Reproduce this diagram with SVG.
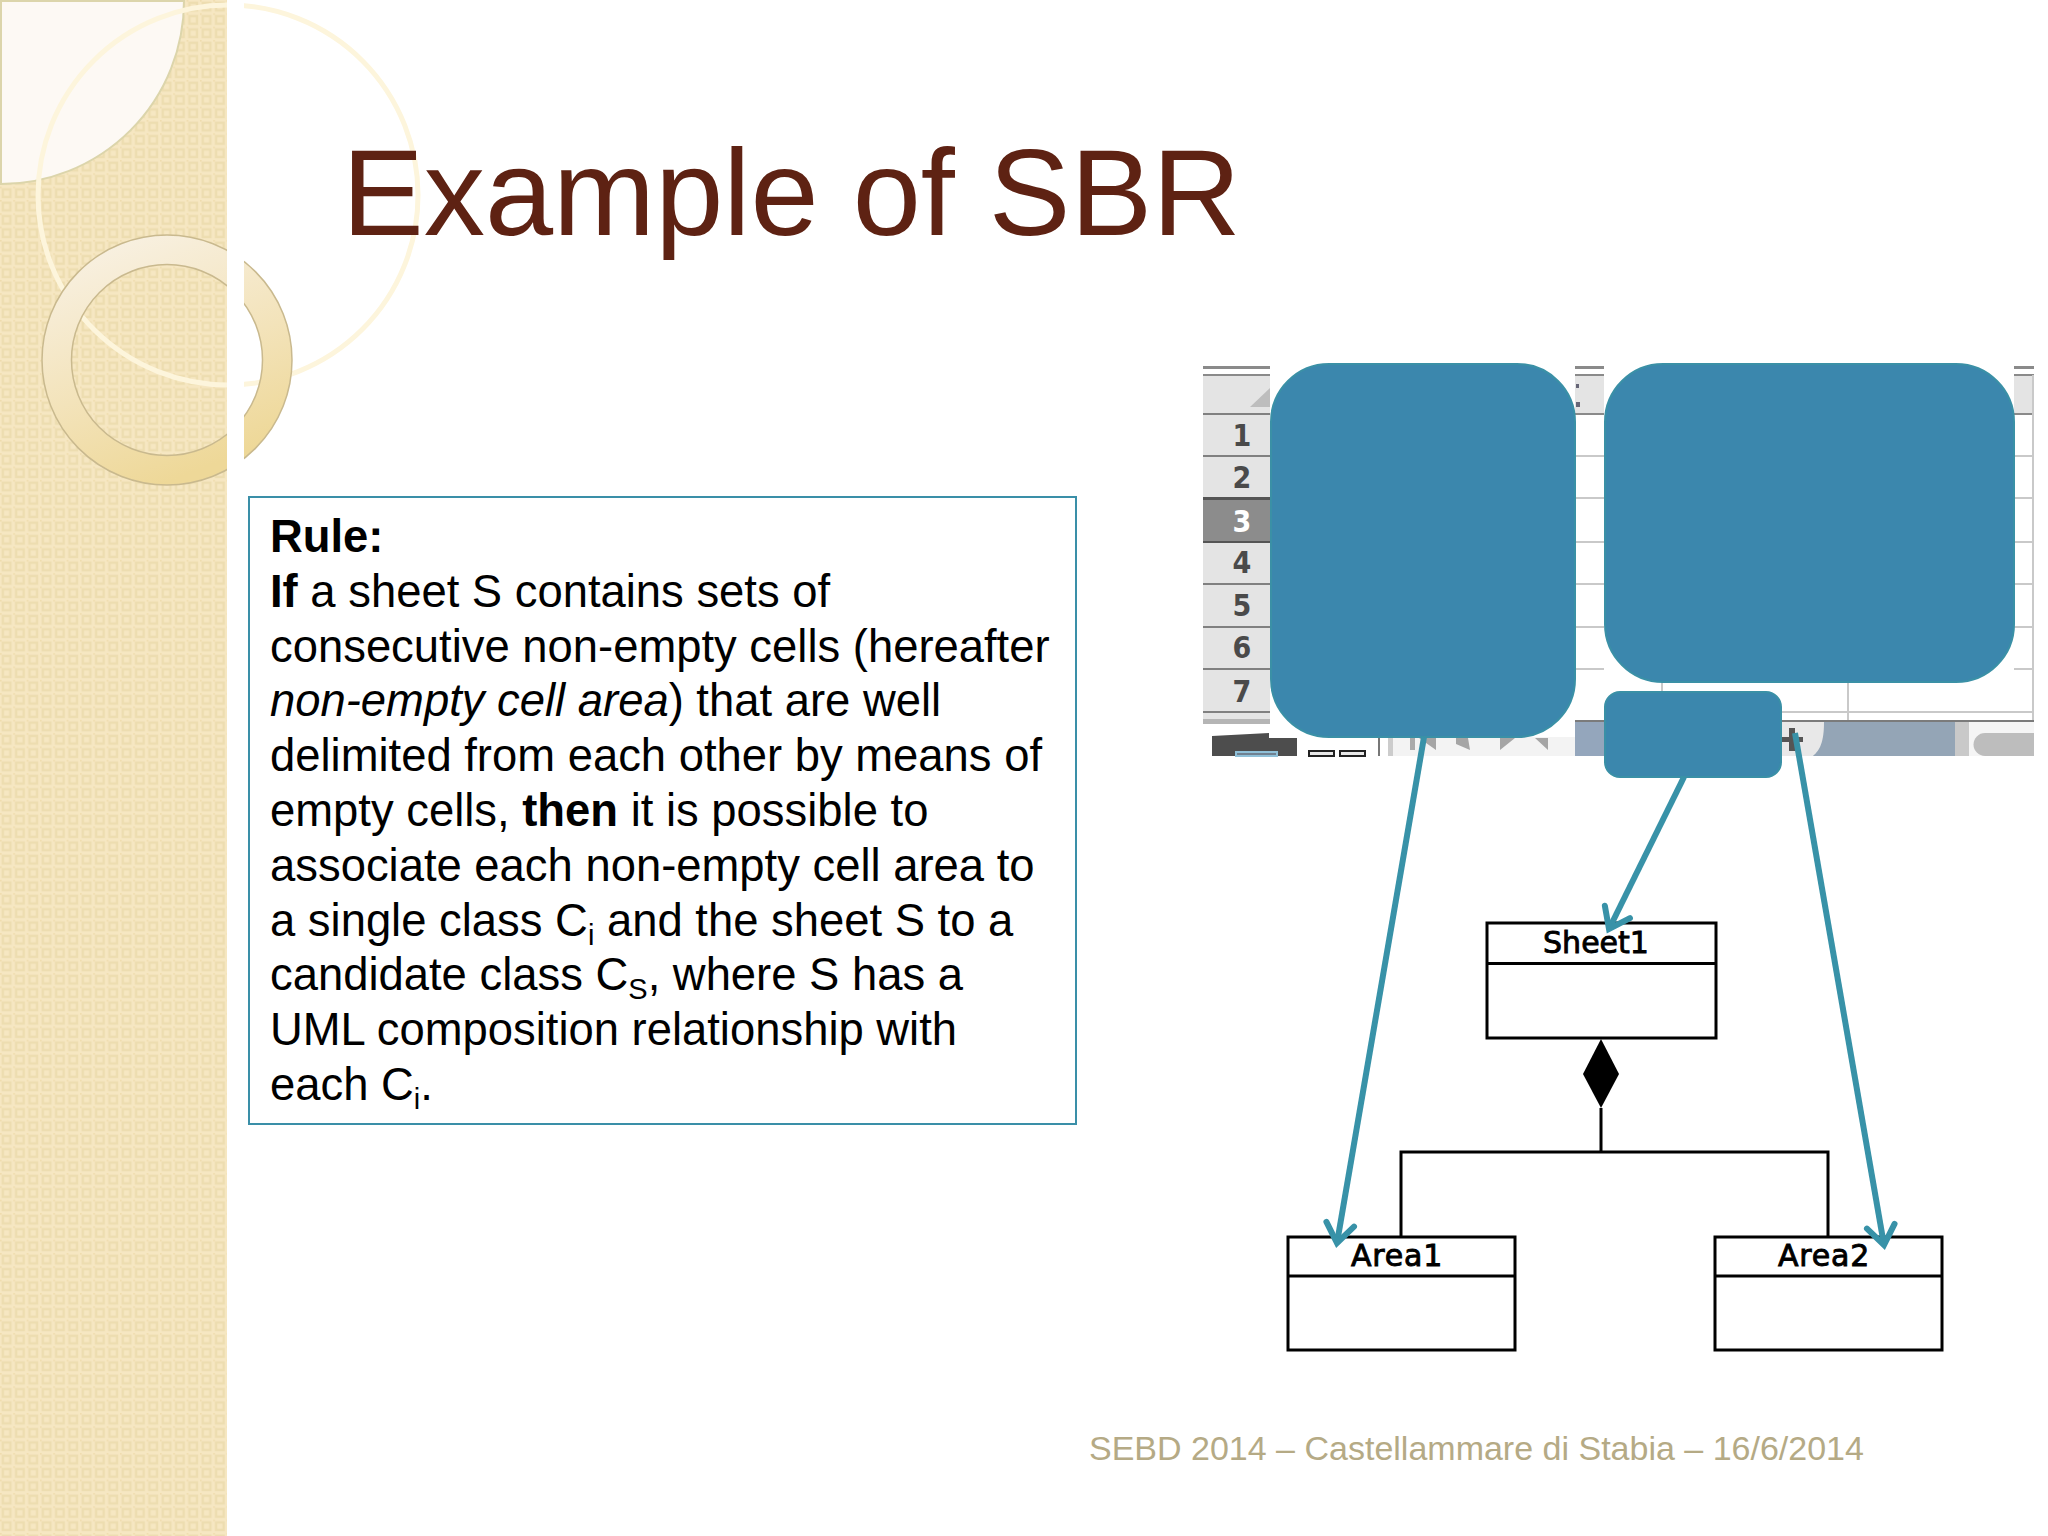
<svg xmlns="http://www.w3.org/2000/svg" width="2048" height="1536" viewBox="0 0 2048 1536">
<style>
.body{font-family:"Liberation Sans",Arial,sans-serif;font-size:45.4px;fill:#000}
.b{font-weight:700}.i{font-style:italic}
.sub{font-size:29px}
.uml{fill:#fff;stroke:#000;stroke-width:3}
.umllabel{font-family:"DejaVu Sans",sans-serif;font-size:30px;fill:#000;stroke:#000;stroke-width:.9;text-anchor:middle}
.line{fill:none;stroke:#000;stroke-width:3}
.area{fill:#3b87ad;stroke:#3a90a6;stroke-width:2}
.conn{fill:none;stroke:#3892a8;stroke-width:6;marker-end:url(#open)}
.rn{font-family:"DejaVu Sans Condensed","DejaVu Sans",sans-serif;font-weight:700;font-size:30px;fill:#4a4a4a;text-anchor:middle}
.hdr{fill:#e4e4e4}
.g{fill:#c9c9c9}
.dk{fill:#8a8a8a}
</style>
<defs>
<pattern id="weave" width="13.33" height="13.33" patternUnits="userSpaceOnUse">
<rect width="13.33" height="13.33" fill="#f6e7c2"/>
<rect x="2.8" y="2.8" width="7.6" height="7.6" fill="none" stroke="#edddb0" stroke-width="2.4"/>
<rect x="0" y="0" width="1.6" height="1.6" fill="#efdcad"/>
</pattern>
<linearGradient id="ringfill" x1=".25" y1=".05" x2=".6" y2=".95">
<stop offset="0" stop-color="#f8f0e0"/><stop offset=".55" stop-color="#f3e3ba"/><stop offset="1" stop-color="#eed898"/>
</linearGradient>
<marker id="open" markerUnits="userSpaceOnUse" markerWidth="44" markerHeight="44" refX="28" refY="22" orient="auto" viewBox="0 0 44 44">
<path d="M9 8 L28 22 L9 36" fill="none" stroke="#3892a8" stroke-width="6" stroke-linecap="round" stroke-linejoin="miter"/>
</marker>
</defs>

<rect width="2048" height="1536" fill="#fff"/>
<g id="background">
<rect x="0" y="0" width="227" height="1536" fill="url(#weave)"/>
<path d="M1 1H184A183 183 0 0 1 1 184Z" fill="#fdf9f4" stroke="#dcd5ab" stroke-width="2"/>
<circle cx="228" cy="195" r="190" fill="none" stroke="#fdf5dc" stroke-width="5"/>
<path fill-rule="evenodd" d="M42 360a125 125 0 1 0 250 0a125 125 0 1 0-250 0ZM71.500 360a95.500 95.500 0 1 0 191 0a95.500 95.500 0 1 0-191 0Z" fill="url(#ringfill)" stroke="#c9b98e" stroke-width="1.500"/>
<rect x="227" y="0" width="17" height="1536" fill="#fff"/>
</g>

<text id="title" x="342" y="235" font-family="'Liberation Sans',Arial,sans-serif" font-size="122.500" fill="#5e2213">Example of SBR</text>

<g id="rule-box">
<rect x="249" y="497" width="827" height="627" fill="#fff" stroke="#3a8fa8" stroke-width="2"/>
<text class="body" x="270" y="552"><tspan class="b">Rule:</tspan></text>
<text class="body" x="270" y="606.800"><tspan class="b">If</tspan> a sheet S contains sets of</text>
<text class="body" x="270" y="661.600">consecutive non-empty cells (hereafter</text>
<text class="body" x="270" y="716.400"><tspan class="i">non-empty cell area</tspan>) that are well</text>
<text class="body" x="270" y="771.200">delimited from each other by means of</text>
<text class="body" x="270" y="826">empty cells, <tspan class="b">then</tspan> it is possible to</text>
<text class="body" x="270" y="880.800">associate each non-empty cell area to</text>
<text class="body" x="270" y="935.600">a single class C<tspan class="sub" dy="9">i</tspan><tspan dy="-9"> and the sheet S to a</tspan></text>
<text class="body" x="270" y="990.400">candidate class C<tspan class="sub" dy="9">S</tspan><tspan dy="-9">, where S has a</tspan></text>
<text class="body" x="270" y="1045.200">UML composition relationship with</text>
<text class="body" x="270" y="1100">each C<tspan class="sub" dy="9">i</tspan><tspan dy="-9">.</tspan></text>
</g>

<g id="spreadsheet">
<rect class="hdr" x="1203" y="375" width="67" height="39"/>
<rect class="dk" x="1203" y="366" width="67" height="3"/>
<rect class="dk" x="1203" y="374" width="67" height="2"/>
<path d="M1250 407L1270 388V407Z" fill="#bdbdbd"/>
<rect class="hdr" x="1203" y="414" width="67" height="305"/>
<rect x="1203" y="498" width="67" height="44" fill="#8c8c8c"/>
<g fill="#808080">
<rect x="1203" y="413" width="67" height="2"/><rect x="1203" y="455" width="67" height="2"/><rect x="1203" y="497" width="67" height="3" fill="#555"/><rect x="1203" y="541" width="67" height="2" fill="#555"/><rect x="1203" y="583" width="67" height="2"/><rect x="1203" y="626" width="67" height="2"/><rect x="1203" y="668" width="67" height="2"/><rect x="1203" y="711" width="67" height="2"/>
</g>
<rect x="1203" y="719" width="67" height="5" fill="#b5b5b5"/>
<text class="rn" x="1242" y="446">1</text><text class="rn" x="1242" y="488">2</text><text class="rn" x="1242" y="532" style="fill:#fff">3</text><text class="rn" x="1242" y="573">4</text><text class="rn" x="1242" y="616">5</text><text class="rn" x="1242" y="658">6</text><text class="rn" x="1242" y="702">7</text>

<rect class="dk" x="1575" y="366" width="29" height="3"/><rect class="dk" x="1575" y="374" width="29" height="2"/>
<rect class="hdr" x="1575" y="376" width="29" height="38"/>
<rect class="dk" x="1575" y="413" width="29" height="2"/>
<rect class="dk" x="2014" y="366" width="20" height="3"/><rect class="dk" x="2014" y="374" width="20" height="2"/>
<rect class="hdr" x="2014" y="376" width="20" height="38"/>
<rect class="dk" x="2014" y="413" width="20" height="2"/>
<rect x="1576" y="384" width="3" height="4" fill="#667"/><rect x="1576" y="402" width="4" height="5" fill="#667"/>
<g class="g">
<rect x="1575" y="455" width="29" height="2"/><rect x="1575" y="497" width="29" height="2"/><rect x="1575" y="541" width="29" height="2"/><rect x="1575" y="583" width="29" height="2"/><rect x="1575" y="626" width="29" height="2"/><rect x="1575" y="668" width="29" height="2"/>
<rect x="2014" y="455" width="20" height="2"/><rect x="2014" y="497" width="20" height="2"/><rect x="2014" y="541" width="20" height="2"/><rect x="2014" y="583" width="20" height="2"/><rect x="2014" y="626" width="20" height="2"/><rect x="2014" y="668" width="20" height="2"/>
<rect x="1781" y="711" width="252" height="2"/>
<rect x="1661" y="682" width="2" height="12"/>
<rect x="1847" y="682" width="2" height="38"/>
<rect x="2032" y="375" width="2" height="345"/>
</g>
<rect x="1575" y="720" width="459" height="2" fill="#7b7b7b"/>
<rect x="1575" y="722" width="29" height="34" fill="#94a6bc"/>
<rect x="1781" y="722" width="44" height="34" fill="#e8e8e8"/>
<path d="M1824 722H1955V756H1813C1820 750 1824 742 1824 722Z" fill="#94a5b6"/>
<rect x="1955" y="722" width="14" height="34" fill="#c9c9c9"/>
<rect x="1969" y="722" width="65" height="34" fill="#f5f5f5"/>
<path d="M1985 733H2034V756H1985A11.500 11.500 0 0 1 1985 733Z" fill="#bdbdbd"/>
<rect x="1782" y="737" width="21" height="5" fill="#555"/>
<rect x="1789" y="728" width="6" height="23" fill="#555"/>
<path d="M1212 736L1269 733V738H1297V756H1212Z" fill="#4d4d4d"/>
<rect x="1236" y="752" width="41" height="4" fill="#6f8090" stroke="#8fc0d8" stroke-width="2"/>
<rect x="1309" y="751" width="25" height="5" fill="#e8e8e8" stroke="#222" stroke-width="2"/>
<rect x="1340" y="751" width="25" height="5" fill="#e8e8e8" stroke="#222" stroke-width="2"/>
<rect x="1378" y="737" width="2" height="19" fill="#777"/>
<rect x="1388" y="737" width="187" height="19" fill="#f3f3f3"/>
<path d="M1419 738H1436V750ZM1468 738H1456V744L1470 750Z" fill="#a5a5a5"/>
<rect x="1388" y="738" width="5" height="18" fill="#ccc"/><rect x="1410" y="738" width="5" height="12" fill="#aaa"/>
<path d="M1500 738L1515 738L1500 750ZM1535 738H1548V750Z" fill="#a5a5a5"/>
</g>

<g id="area-left"><rect class="area" x="1271" y="364" width="304" height="373" rx="58"/></g>
<g id="area-right"><rect class="area" x="1605" y="364" width="409" height="318" rx="58"/></g>
<g id="area-tab"><rect class="area" x="1605" y="692" width="176" height="85" rx="15"/></g>

<g id="class-sheet1">
<rect class="uml" x="1487" y="923" width="229" height="115"/>
<path class="line" d="M1487 963.500H1716"/>
<text class="umllabel" x="1596" y="953">Sheet1</text>
</g>
<g id="class-area1">
<rect class="uml" x="1288" y="1237" width="227" height="113"/>
<path class="line" d="M1288 1276H1515"/>
<text class="umllabel" x="1397" y="1266" letter-spacing=".8">Area1</text>
</g>
<g id="class-area2">
<rect class="uml" x="1715" y="1237" width="227" height="113"/>
<path class="line" d="M1715 1276H1942"/>
<text class="umllabel" x="1824" y="1266" letter-spacing=".8">Area2</text>
</g>

<g id="connectors">
<path d="M1601 1039L1619 1074L1601 1108L1583 1074Z" fill="#000"/>
<path class="line" d="M1601 1108V1152M1401 1237V1152H1828V1237"/>
<path class="conn" d="M1424 737L1337 1243"/>
<path class="conn" d="M1684 777L1609 929"/>
<path class="conn" d="M1795 733L1884 1245"/>
</g>

<text id="footer" x="1089" y="1460" font-family="'Liberation Sans',Arial,sans-serif" font-size="34" fill="#b5aa85">SEBD 2014 – Castellammare di Stabia – 16/6/2014</text>
</svg>
